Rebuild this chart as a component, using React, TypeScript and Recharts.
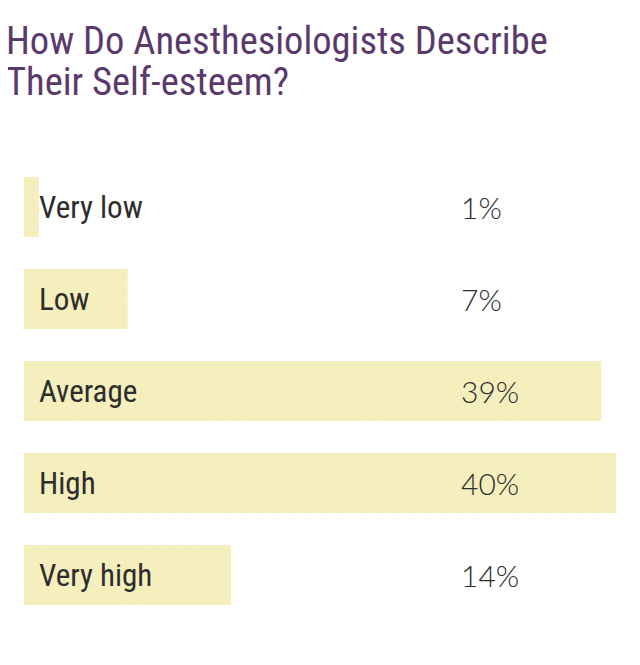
import { BarChart, Bar, XAxis, YAxis, LabelList } from 'recharts';

const categories = ['Very low', 'Low', 'Average', 'High', 'Very high'];
const percents = [1, 7, 39, 40, 14];

const data = categories.map((name, i) => ({ name, value: percents[i] }));

const TITLE_COLOR = '#5a3a6c';
const BAR_COLOR = '#f5eebd';
const TEXT_COLOR = '#2d2d2d';
const CONDENSED = "'Roboto Condensed', 'Liberation Sans Narrow', 'DejaVu Sans Condensed', sans-serif";

function NameLabel(props: any) {
  const { x, y, height, value } = props;
  return (
    <text
      x={x + 15}
      y={y + height / 2}
      dominantBaseline="central"
      fill={TEXT_COLOR}
      fontSize={31}
      fontFamily={CONDENSED}
      fontWeight={400}
      style={{ fontStretch: 'condensed' }}
    >
      {value}
    </text>
  );
}

function PctLabel(props: any) {
  const { x, y, height, value } = props;
  return (
    <text
      x={x + 437}
      y={y + height / 2}
      dominantBaseline="central"
      fill={TEXT_COLOR}
      fontSize={30}
      fontFamily="Lato, 'Open Sans', sans-serif"
      fontWeight={300}
    >
      {value}%
    </text>
  );
}

export default function App() {
  return (
    <div style={{ position: 'relative', width: 624, height: 649 }}>
      <div
        style={{
          position: 'absolute',
          left: -2,
          top: 12,
          color: TITLE_COLOR,
          fontFamily: CONDENSED,
          fontStretch: 'condensed',
          fontSize: 38.5,
          lineHeight: '41px',
          whiteSpace: 'nowrap',
        }}
      >
        How Do Anesthesiologists Describe
        <br />
        Their Self-esteem?
      </div>
      <div style={{ position: 'absolute', left: 0, top: 0 }}>
        <BarChart
          width={624}
          height={649}
          data={data}
          layout="vertical"
          margin={{ top: 153, right: 16, bottom: 36, left: 16 }}
          barCategoryGap={16}
        >
          <defs>
            <pattern id="hatch" width="12" height="12" patternUnits="userSpaceOnUse" patternTransform="rotate(-45)">
              <rect width="12" height="12" fill={BAR_COLOR} />
              <line x1="0" y1="0" x2="0" y2="12" stroke="#efe8b6" strokeWidth="1" strokeDasharray="3 2" />
            </pattern>
          </defs>
          <XAxis type="number" domain={[0, 40]} hide />
          <YAxis type="category" dataKey="name" hide width={0} />
          <Bar dataKey="value" fill="url(#hatch)" isAnimationActive={false}>
            <LabelList dataKey="name" content={NameLabel} />
            <LabelList dataKey="value" content={PctLabel} />
          </Bar>
        </BarChart>
      </div>
    </div>
  );
}
